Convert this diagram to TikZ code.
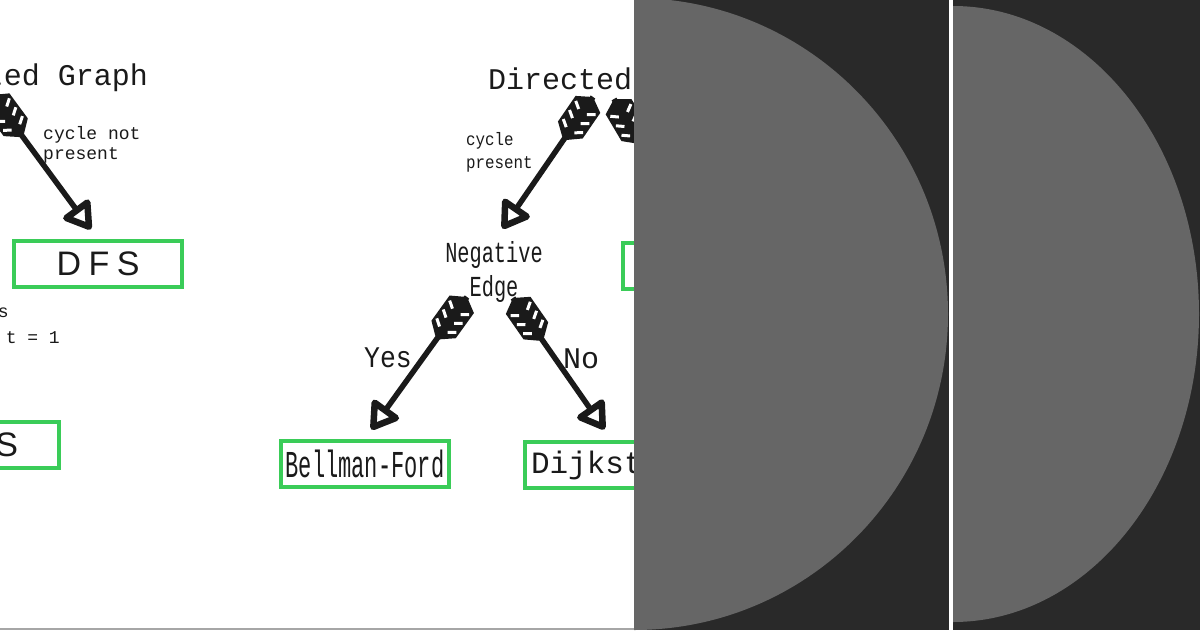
\documentclass[tikz,border=0pt]{standalone}
\usepackage{fontspec}
\setmainfont{Liberation Sans}
\newfontfamily\monofont{Liberation Mono}
\newfontfamily\tallfont[FakeStretch=0.58]{Liberation Mono}
\newfontfamily\midfont[FakeStretch=0.7]{Liberation Mono}
\newfontfamily\slimfont[FakeStretch=0.88]{Liberation Mono}
\newfontfamily\spacedsans[LetterSpace=22]{Liberation Sans}
\usepackage{xcolor}
\usetikzlibrary{arrows.meta,calc}
\definecolor{boxgreen}{RGB}{58,204,88}
\definecolor{ink}{RGB}{26,26,26}
\definecolor{panel}{RGB}{41,41,41}
\definecolor{disc}{RGB}{102,102,102}
\newcommand{\fsz}[1]{\fontsize{#1}{1.2\dimexpr#1pt\relax}\selectfont}
% feathers at the tail end of an arrow from #1 towards #2
\newcommand{\fletchon}[2]{\path let \p1=($(#2)-(#1)$), \n1={atan2(\y1,\x1)} in (#1) pic[rotate=\n1] {fletch};}

\tikzset{
  fletch/.pic={
    \fill[ink] (0,0) -- (9,-15) -- (40,-15) -- (50,-3) -- (50,3) -- (40,15) -- (9,15) -- cycle;
    \foreach \s in {13,24,35} {
      \draw[white, line width=3pt] (\s+5,-5) -- (\s,-12);
      \draw[white, line width=3pt] (\s+5,5) -- (\s,12);
    }
  },
  arr/.style={draw=ink, line width=5.5pt,
    -{Triangle[open,round,length=30pt,width=36pt,line width=6.5pt]}},
  box/.style={draw=boxgreen, line width=4pt, minimum width=168pt, minimum height=46pt},
  txt/.style={text=ink, inner sep=0pt}
}

\begin{document}
\begin{tikzpicture}[x=1pt,y=-1pt]
  \useasboundingbox (0,0) rectangle (1200,630);
  \clip (0,0) rectangle (1200,630);
  \fill[white] (0,0) rectangle (634,630);
  \draw[gray!70, line width=1.5pt] (0,629) -- (634,629);

  % undirected side
  \node[txt, anchor=base east, font=\monofont\fsz{30}] (undir) at (148,85) {ted Graph};
  \node[txt, anchor=north west, align=left, font=\monofont\fontsize{18}{20}\selectfont] (cnp) at (43,126) {cycle not\\present};
  \node[box, text=ink, font=\spacedsans\fsz{34}] (dfs) at (98,264) {DFS};
  \node[txt, anchor=base east, font=\monofont\fsz{18}] (wgt1) at (9,317) {s};
  \node[txt, anchor=base east, font=\monofont\fsz{18}] (wgt2) at (60,343) {t = 1};
  \node[box, text=ink, text width=86pt, align=right, inner xsep=0pt, font=\spacedsans\fsz{34}] (bfs) at (-25,445) {S};

  % directed side
  \node[txt, anchor=base west, font=\monofont\fsz{30}] (dir) at (488,89) {Directed};
  \node[txt, anchor=north west, align=left, font=\slimfont\fontsize{18}{23}\selectfont] (cp) at (466,132) {cycle\\present};
  \node[txt, anchor=north, align=center, font=\midfont\fontsize{29}{34}\selectfont] (neg) at (494,241) {Negative\\Edge};
  \node[txt, anchor=base west, font=\slimfont\fsz{30}] (yes) at (364,367) {Yes};
  \node[txt, anchor=base west, font=\monofont\fsz{30}] (no) at (563,368) {No};
  \node[box, text=ink, font=\tallfont\fsz{38}] (bf) at (365,463.5) {Bellman-Ford};
  \node[box, text=ink, anchor=west, inner xsep=6pt, text width=156pt, font=\monofont\fsz{31}] (dijk) at (523,465) {Dijkst};
  \node[box, anchor=west, minimum width=150pt] (topo) at (621,266) {};

  % arrow tails and heads
  \coordinate (undirT) at (-8,95);
  \coordinate (dirL) at (593,97);
  \coordinate (dirR) at (614,99);
  \coordinate (negL) at (467,297);
  \coordinate (negR) at (513,298);
  \coordinate (dijkIn) at ($(dijk.north west)+(89,0)$);

  \draw[arr, shorten >=12pt] (undirT) -- (dfs.north);
  \draw[arr, shorten >=15pt] (dirL) -- (neg.north);
  \draw[arr, shorten >=13pt] (dirR) -- (topo.north);
  \draw[arr, shorten >=11pt] (negL) -- (bf.north);
  \draw[arr, shorten >=13pt] (negR) -- (dijkIn);
  \fletchon{undirT}{dfs.north}
  \fletchon{dirL}{neg.north}
  \fletchon{dirR}{topo.north}
  \fletchon{negL}{bf.north}
  \fletchon{negR}{dijkIn}

  % right panels
  \fill[panel] (634,0) rectangle (1200,630);
  \begin{scope}
    \clip (634,0) rectangle (949,630);
    \fill[disc] (634,314) ellipse [x radius=314, y radius=316];
  \end{scope}
  \fill[white] (949,0) rectangle (953,630);
  \begin{scope}
    \clip (953,0) rectangle (1200,630);
    \fill[disc] (953,314) ellipse [x radius=246, y radius=308];
  \end{scope}
\end{tikzpicture}
\end{document}
